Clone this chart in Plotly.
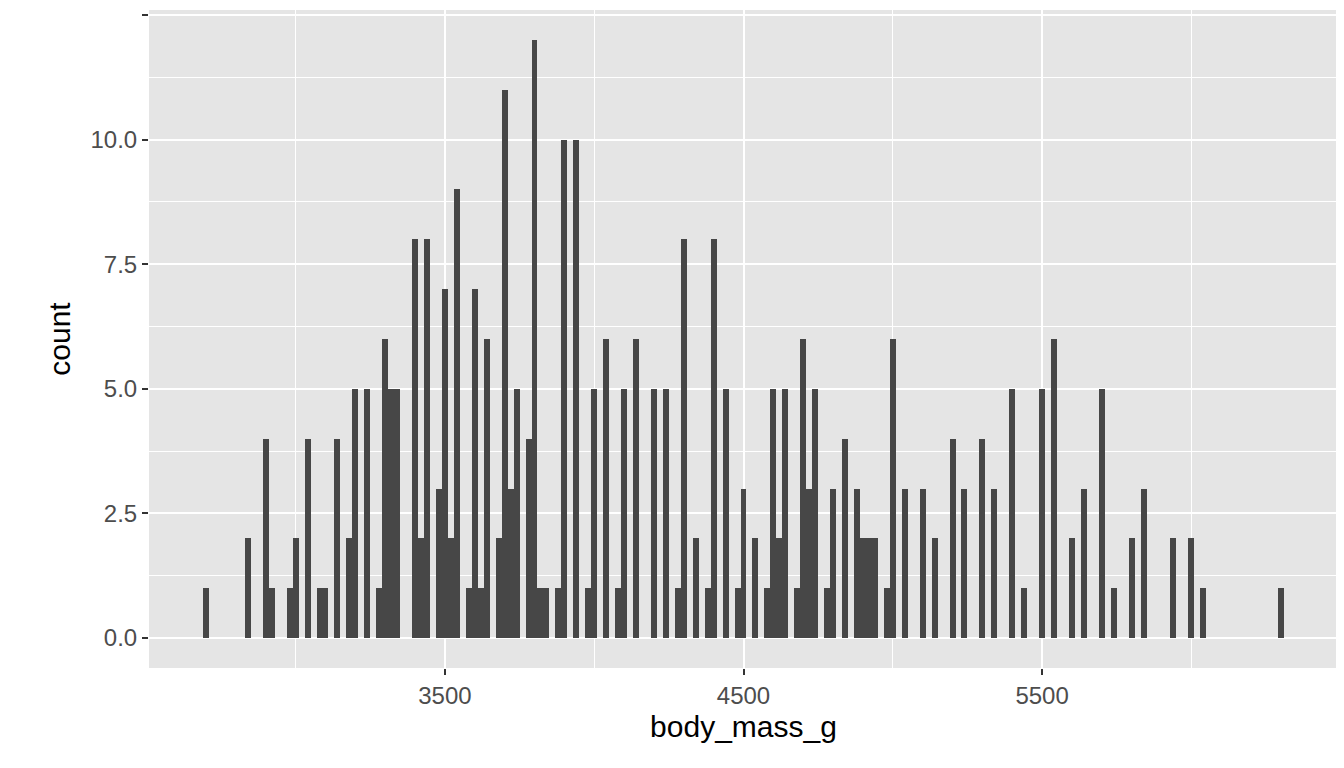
import plotly.graph_objects as go

# bin centres (g) and counts (binwidth 20)
body_mass = [2700, 2840, 2900, 2920, 2980, 3000, 3040, 3080, 3100, 3140,
             3180, 3200, 3240, 3280, 3300, 3320, 3340, 3400, 3420, 3440,
             3480, 3500, 3520, 3540, 3580, 3600, 3620, 3640, 3680, 3700,
             3720, 3740, 3780, 3800, 3820, 3840, 3880, 3900, 3940, 3980,
             4000, 4040, 4080, 4100, 4140, 4200, 4240, 4280, 4300, 4340,
             4380, 4400, 4440, 4480, 4500, 4540, 4580, 4600, 4620, 4640,
             4680, 4700, 4720, 4740, 4780, 4800, 4840, 4880, 4900, 4920,
             4940, 4980, 5000, 5040, 5100, 5140, 5200, 5240, 5300, 5340,
             5400, 5440, 5500, 5540, 5600, 5640, 5700, 5740, 5800, 5840,
             5940, 6000, 6040, 6300]
counts = [1, 2, 4, 1, 1, 2, 4, 1, 1, 4,
          2, 5, 5, 1, 6, 5, 5, 8, 2, 8,
          3, 7, 2, 9, 1, 7, 1, 6, 2, 11,
          3, 5, 4, 12, 1, 1, 1, 10, 10, 1,
          5, 6, 1, 5, 6, 5, 5, 1, 8, 2,
          1, 8, 5, 1, 3, 2, 1, 5, 2, 5,
          1, 6, 3, 5, 1, 3, 4, 3, 2, 2,
          2, 1, 6, 3, 3, 2, 4, 3, 4, 3,
          5, 1, 5, 6, 2, 3, 5, 1, 2, 3,
          2, 2, 1, 1]

x_ticks = [3500, 4500, 5500]
y_ticks = [0, 2.5, 5, 7.5, 10, 12.5]

fig = go.Figure(go.Bar(x=body_mass, y=counts, width=20,
                       marker=dict(color='#474747', line=dict(width=0))))

fig.update_layout(
    width=1344, height=768,
    paper_bgcolor='white', plot_bgcolor='#E5E5E5',
    margin=dict(l=141, r=14, t=2, b=108),
    font=dict(family='Liberation Sans, Arial, sans-serif'),
    showlegend=False,
    bargap=0,
)
fig.update_xaxes(
    range=[2509, 6491], tickvals=x_ticks, ticktext=[str(v) for v in x_ticks],
    showgrid=True, gridcolor='white', gridwidth=2,
    minor=dict(tickvals=[3000, 4000, 5000, 6000], showgrid=True, gridcolor='white', gridwidth=1),
    ticks='outside', ticklen=6, tickcolor='#333333', tickwidth=1.5,
    tickfont=dict(size=24, color='#4D4D4D'), zeroline=False,
    title=dict(text='body_mass_g', font=dict(size=30, color='black'), standoff=8),
)
fig.update_yaxes(
    range=[-0.6, 12.6], tickvals=y_ticks, ticktext=['%.1f' % v for v in y_ticks],
    showgrid=True, gridcolor='white', gridwidth=2,
    minor=dict(tickvals=[1.25, 3.75, 6.25, 8.75, 11.25], showgrid=True, gridcolor='white', gridwidth=1),
    ticks='outside', ticklen=6, tickcolor='#333333', tickwidth=1.5,
    tickfont=dict(size=24, color='#4D4D4D'), zeroline=False,
    title=dict(text='count', font=dict(size=30, color='black'), standoff=10),
)

fig.write_html("out.html")
